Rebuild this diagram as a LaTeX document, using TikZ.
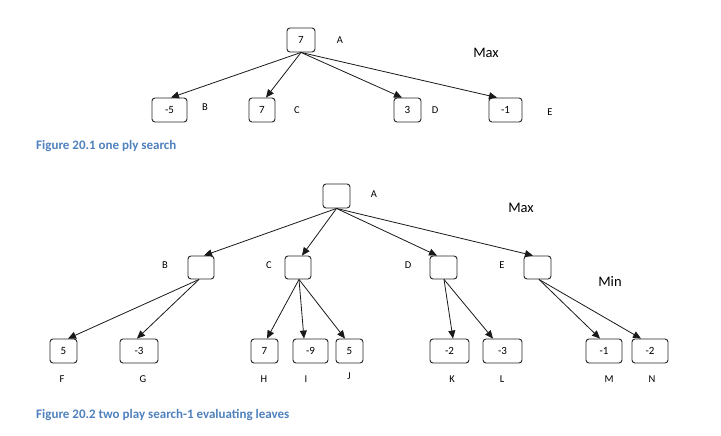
\documentclass[tikz,border=0pt]{standalone}
\usepackage{fontspec}
\setmainfont{Carlito}
\usetikzlibrary{arrows.meta}
\definecolor{capblue}{HTML}{4F81BD}
\tikzset{
  nbox/.style={draw=black!85, line width=0.9pt, rounded corners=3pt, inner sep=0pt,
    minimum height=24pt, font=\fontsize{11}{12}\selectfont},
  lbl/.style={inner sep=0pt, font=\fontsize{10.5}{12}\selectfont},
  big/.style={inner sep=0pt, font=\fontsize{14.5}{16}\selectfont},
  figcaption/.style={inner sep=0pt, anchor=west, text=capblue, font=\bfseries\fontsize{13}{14}\selectfont},
  arr/.style={draw=black!90, line width=0.8pt, -{Triangle[length=8pt,width=7pt]}}
}
\begin{document}
\begin{tikzpicture}[x=1pt,y=-1pt]
\useasboundingbox (0,0) rectangle (721,436);
% ---------- Figure 20.1 ----------
\node[nbox, minimum width=28pt] (a1) at (301,40) {7};
\node[nbox, minimum width=35pt] (b1) at (169.5,110) {-5};
\node[nbox, minimum width=26pt] (c1) at (262,110) {7};
\node[nbox, minimum width=27pt] (d1) at (407.5,110) {3};
\node[nbox, minimum width=33pt] (e1) at (505.5,110) {-1};
\node[lbl] (la1) at (340,40) {A};
\node[lbl] (lb1) at (205,107) {B};
\node[lbl] (lc1) at (297,110) {C};
\node[lbl] (ld1) at (435,110) {D};
\node[lbl] (le1) at (550,112) {E};
\node[big] (max1) at (486,53) {Max};
\draw[arr] (a1.south) -- ([xshift=1.5pt]b1.north);
\draw[arr] (a1.south) -- ([xshift=4pt]c1.north);
\draw[arr] (a1.south) -- ([xshift=-5.5pt]d1.north);
\draw[arr] (a1.south) -- ([xshift=-8.5pt]e1.north);
\node[figcaption] (cap1) at (36,146) {Figure 20.1 one ply search};
% ---------- Figure 20.2 ----------
\node[nbox, minimum width=27pt] (a2) at (336.5,196) {};
\node[lbl] (la2) at (374,194) {A};
\node[big] (max2) at (521,208) {Max};
\node[nbox, minimum width=26pt, minimum height=23pt] (b2) at (201,267.5) {};
\node[nbox, minimum width=26pt, minimum height=23pt] (c2) at (298,267.5) {};
\node[nbox, minimum width=27pt, minimum height=23pt] (d2) at (443.5,267.5) {};
\node[nbox, minimum width=27pt, minimum height=23pt] (e2) at (537.5,267.5) {};
\node[lbl] (lb2) at (165,265) {B};
\node[lbl] (lc2) at (269,265) {C};
\node[lbl] (ld2) at (408,265) {D};
\node[lbl] (le2) at (502,265) {E};
\node[big] (min2) at (610,282) {Min};
\node[nbox, minimum width=27pt] (f2) at (63.5,351) {5};
\node[nbox, minimum width=38pt] (g2) at (139,351) {-3};
\node[nbox, minimum width=27pt] (h2) at (264.5,351) {7};
\node[nbox, minimum width=35pt] (i2) at (310.5,351) {-9};
\node[nbox, minimum width=27pt] (j2) at (349.5,351) {5};
\node[nbox, minimum width=39pt] (k2) at (449.5,351) {-2};
\node[nbox, minimum width=39pt] (l2) at (502.5,351) {-3};
\node[nbox, minimum width=36pt] (m2) at (604,351) {-1};
\node[nbox, minimum width=36pt] (n2) at (650,351) {-2};
\node[lbl] (lf2) at (62,379) {F};
\node[lbl] (lg2) at (143,379) {G};
\node[lbl] (lh2) at (264,379) {H};
\node[lbl] (li2) at (306,379) {I};
\node[lbl] (lj2) at (349,376) {J};
\node[lbl] (lk2) at (452,379) {K};
\node[lbl] (ll2) at (502,379) {L};
\node[lbl] (lm2) at (609,379) {M};
\node[lbl] (ln2) at (652,379) {N};
\draw[arr] (a2.south) -- ([xshift=3pt]b2.north);
\draw[arr] (a2.south) -- ([xshift=4pt]c2.north);
\draw[arr] (a2.south) -- ([xshift=-6.5pt]d2.north);
\draw[arr] (a2.south) -- ([xshift=-4.5pt]e2.north);
\draw[arr] ([xshift=-2pt]b2.south) -- ([xshift=4.5pt]f2.north);
\draw[arr] ([xshift=-2pt]b2.south) -- ([xshift=-2pt]g2.north);
\draw[arr] ([xshift=1pt]c2.south) -- ([xshift=2.5pt]h2.north);
\draw[arr] ([xshift=1pt]c2.south) -- ([xshift=-6.5pt]i2.north);
\draw[arr] ([xshift=1pt]c2.south) -- ([xshift=-4.5pt]j2.north);
\draw[arr] ([xshift=0.5pt]d2.south) -- ([xshift=3.5pt]k2.north);
\draw[arr] ([xshift=0.5pt]d2.south) -- ([xshift=-9.5pt]l2.north);
\draw[arr] ([xshift=1.5pt]e2.south) -- ([xshift=-4pt]m2.north);
\draw[arr] ([xshift=1.5pt]e2.south) -- ([xshift=-9pt]n2.north);
\node[figcaption] (cap2) at (36,415) {Figure 20.2 two play search-1 evaluating leaves};
\end{tikzpicture}
\end{document}
